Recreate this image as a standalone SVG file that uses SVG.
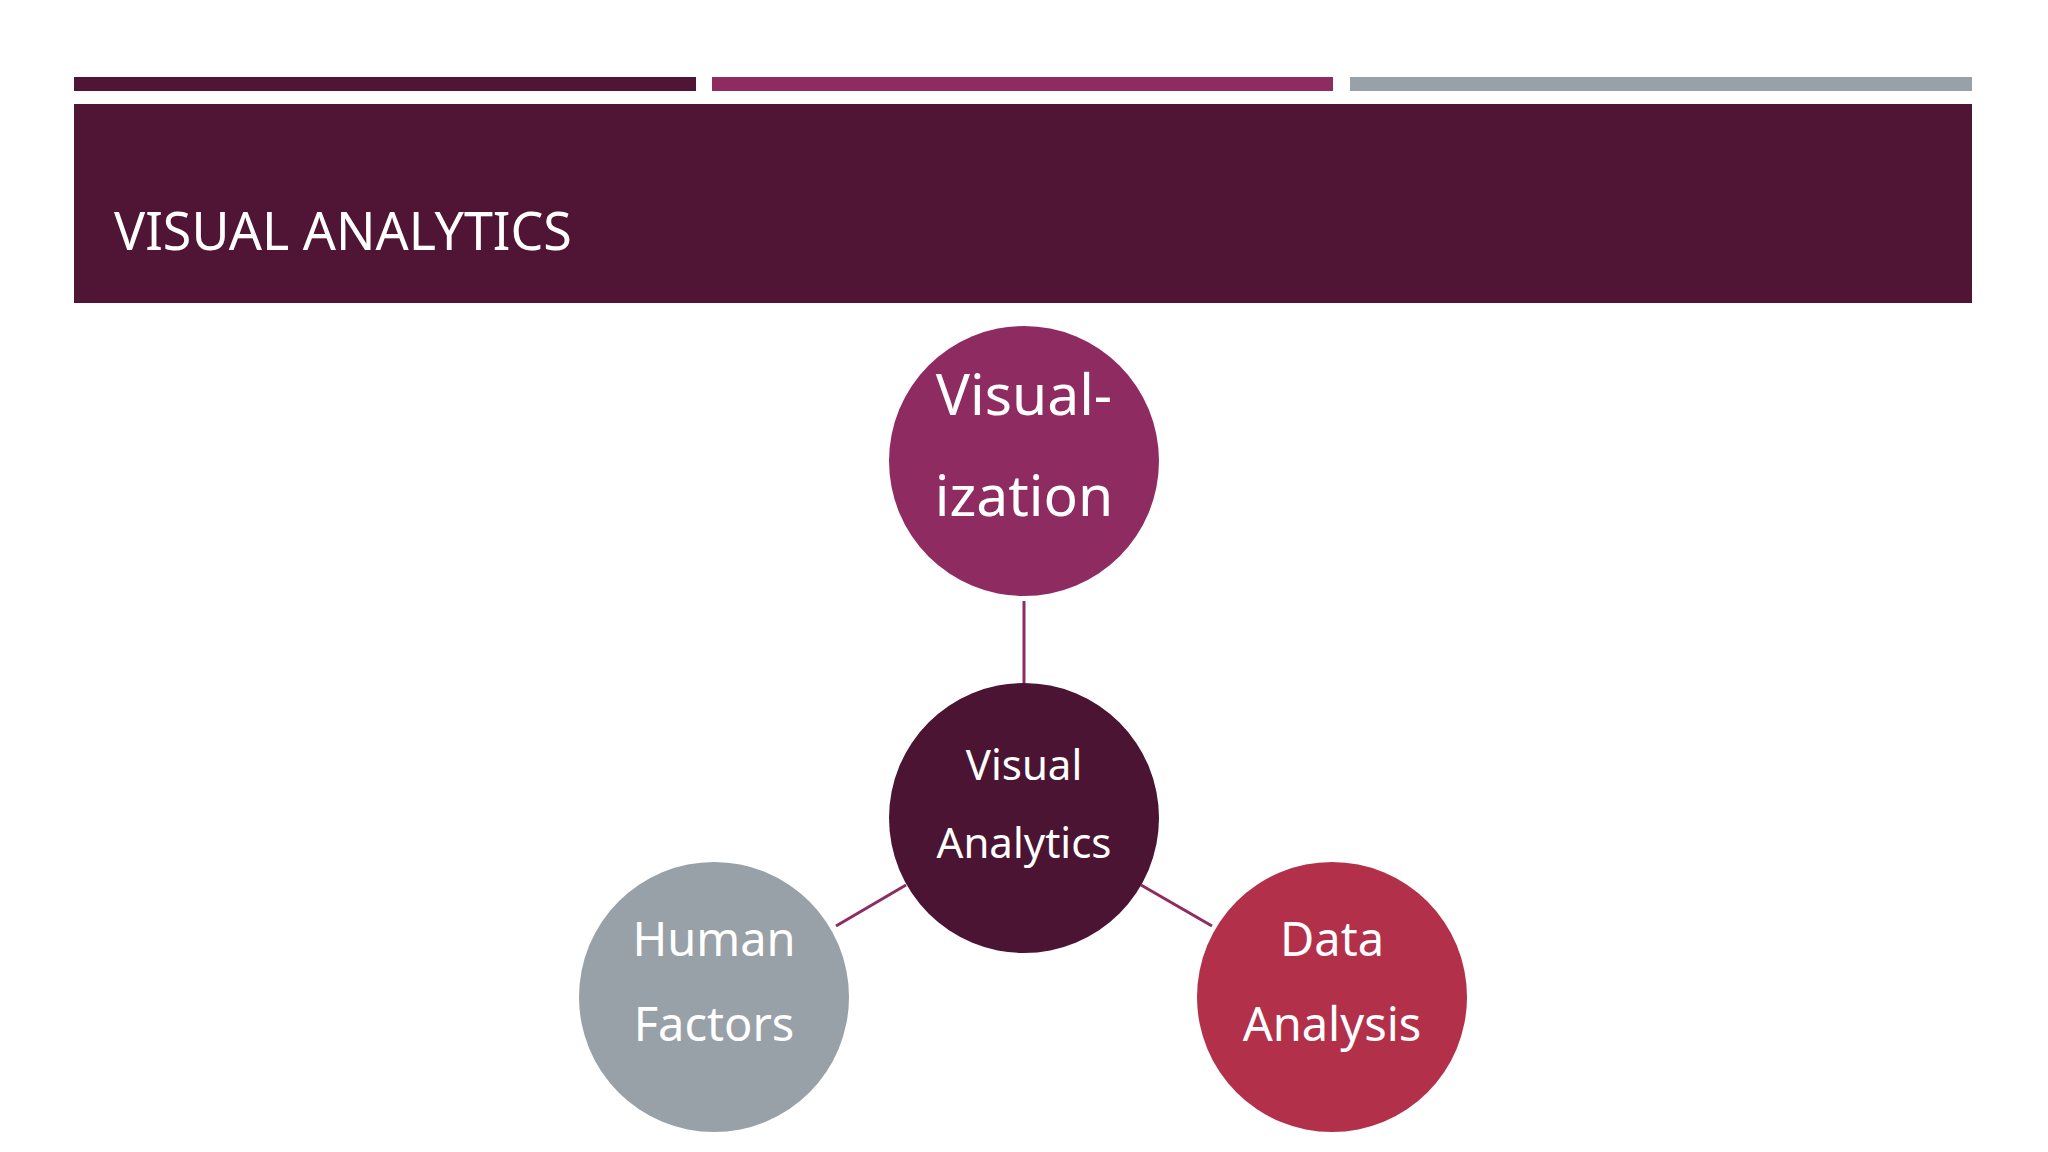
<svg xmlns="http://www.w3.org/2000/svg" width="2048" height="1152" viewBox="0 0 2048 1152">
<style>
text{font-family:"Noto Sans","Open Sans",sans-serif;fill:#fff;text-anchor:middle}
.ln{stroke:#8E2C61;stroke-width:3}
</style>
<rect width="2048" height="1152" fill="#fff"/>
<rect x="74" y="77" width="622" height="14" fill="#501535"/>
<rect x="712" y="77" width="621" height="14" fill="#8E2C61"/>
<rect x="1350" y="77" width="622" height="14" fill="#98A1A7"/>
<rect x="74" y="104" width="1898" height="199" fill="#501535"/>
<text x="114" y="250" style="text-anchor:start;font-size:52px">VISUAL ANALYTICS</text>
<g id="connectors">
<line class="ln" x1="1024" y1="601" x2="1024" y2="683"/>
<line class="ln" x1="836" y1="926" x2="906" y2="885"/>
<line class="ln" x1="1141" y1="885" x2="1212" y2="926"/>
</g>
<g id="visualization"><circle cx="1024" cy="461" r="135" fill="#8E2C61"/>
<text x="1024" y="415" font-size="57">Visual-</text><text x="1024" y="516" font-size="57">ization</text></g>
<g id="center"><circle cx="1024" cy="818" r="135" fill="#4A1432"/>
<text x="1024" y="780" font-size="42">Visual</text><text x="1024" y="858" font-size="42">Analytics</text></g>
<g id="human"><circle cx="714" cy="997" r="135" fill="#98A1A7"/>
<text x="714" y="956" font-size="47">Human</text><text x="714" y="1041" font-size="47">Factors</text></g>
<g id="data"><circle cx="1332" cy="997" r="135" fill="#B3304B"/>
<text x="1332" y="956" font-size="47">Data</text><text x="1332" y="1041" font-size="47">Analysis</text></g>
</svg>
